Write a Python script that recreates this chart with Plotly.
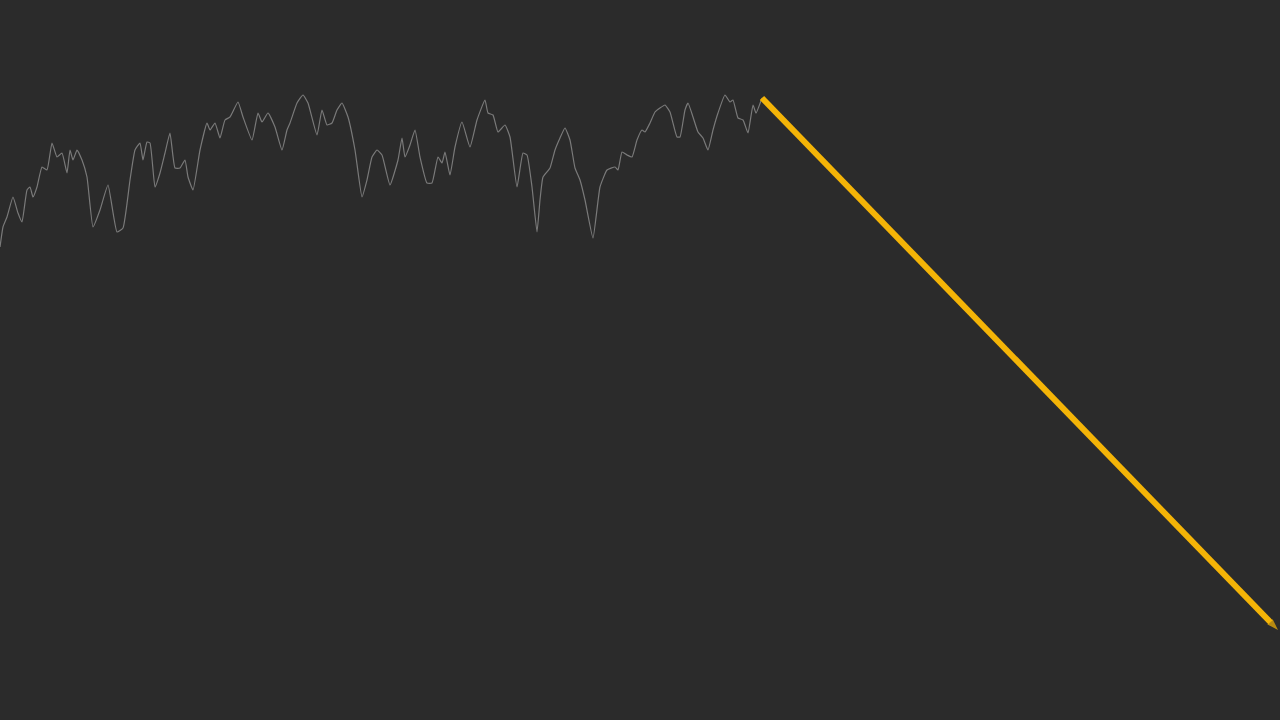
import plotly.graph_objects as go

# Historical series (gray), x = time position, y = level
hist_x = [0, 3, 7, 13, 18, 22, 27, 30, 33, 37, 42, 47, 52, 57, 62, 67, 70, 73, 77, 82,
          87, 93, 100, 108, 117, 123, 130, 135, 140, 143, 147, 150, 155, 160, 165, 170, 175, 180, 185, 188,
          193, 200, 207, 210, 215, 220, 225, 230, 238, 243, 252, 258, 262, 268, 275, 282, 287, 290, 297, 303,
          308, 317, 322, 327, 332, 337, 342, 348, 355, 362, 367, 372, 377, 382, 390, 398, 402, 405, 410, 415,
          420, 427, 432, 438, 442, 445, 450, 455, 462, 470, 477, 485, 488, 493, 498, 505, 510, 517, 523, 527,
          532, 537, 540, 543, 550, 555, 560, 565, 570, 575, 580, 585, 593, 600, 607, 615, 618, 622, 627, 632,
          637, 642, 645, 650, 655, 660, 665, 670, 677, 680, 685, 688, 693, 698, 703, 708, 713, 718, 725, 730,
          733, 738, 743, 748, 753, 756, 762]
hist_y = [473, 493, 503, 523, 507, 498, 530, 533, 523, 533, 553, 550, 577, 563, 567, 547, 570, 560, 570, 560,
          543, 493, 510, 535, 488, 492, 540, 570, 577, 560, 578, 577, 533, 547, 567, 587, 552, 552, 560, 543,
          530, 570, 597, 590, 597, 582, 600, 603, 618, 603, 580, 607, 598, 607, 593, 570, 590, 597, 617, 625,
          617, 585, 610, 595, 597, 610, 617, 603, 570, 523, 540, 563, 570, 565, 535, 560, 582, 563, 575, 590,
          563, 537, 537, 563, 557, 568, 545, 573, 598, 573, 600, 620, 607, 605, 588, 595, 583, 533, 567, 565,
          533, 488, 520, 543, 552, 570, 582, 592, 580, 552, 540, 520, 482, 533, 550, 553, 550, 568, 565, 563,
          580, 590, 588, 597, 608, 612, 615, 608, 583, 583, 610, 617, 603, 588, 582, 570, 590, 607, 625, 618,
          620, 602, 600, 587, 615, 607, 622]

# Projection (yellow arrow)
proj_x = [762, 1278]
proj_y = [622, 90]

fig = go.Figure()
fig.add_trace(go.Scatter(
    x=hist_x, y=hist_y, mode="lines",
    line=dict(color="#7a7a7a", width=1.2, shape="spline", smoothing=0.4),
    hoverinfo="skip", showlegend=False))
fig.add_trace(go.Scatter(
    x=proj_x, y=proj_y, mode="lines+markers", cliponaxis=False,
    line=dict(color="#f4b407", width=6),
    marker=dict(symbol=["circle", "arrow"], size=[7, 12], angleref="previous",
                color="#f4b407", line=dict(width=0)),
    hoverinfo="skip", showlegend=False))

fig.update_layout(
    width=1280, height=720,
    paper_bgcolor="#2b2b2b", plot_bgcolor="#2b2b2b",
    margin=dict(l=0, r=0, t=0, b=0),
    xaxis=dict(range=[0, 1280], visible=False, fixedrange=True),
    yaxis=dict(range=[0, 720], visible=False, fixedrange=True),
)
fig.write_html(
    "out.html",
    config={"displayModeBar": False},
    post_script="document.body.style.margin='0';document.body.style.overflow='hidden';"
                "document.body.style.background='#2b2b2b';",
)
